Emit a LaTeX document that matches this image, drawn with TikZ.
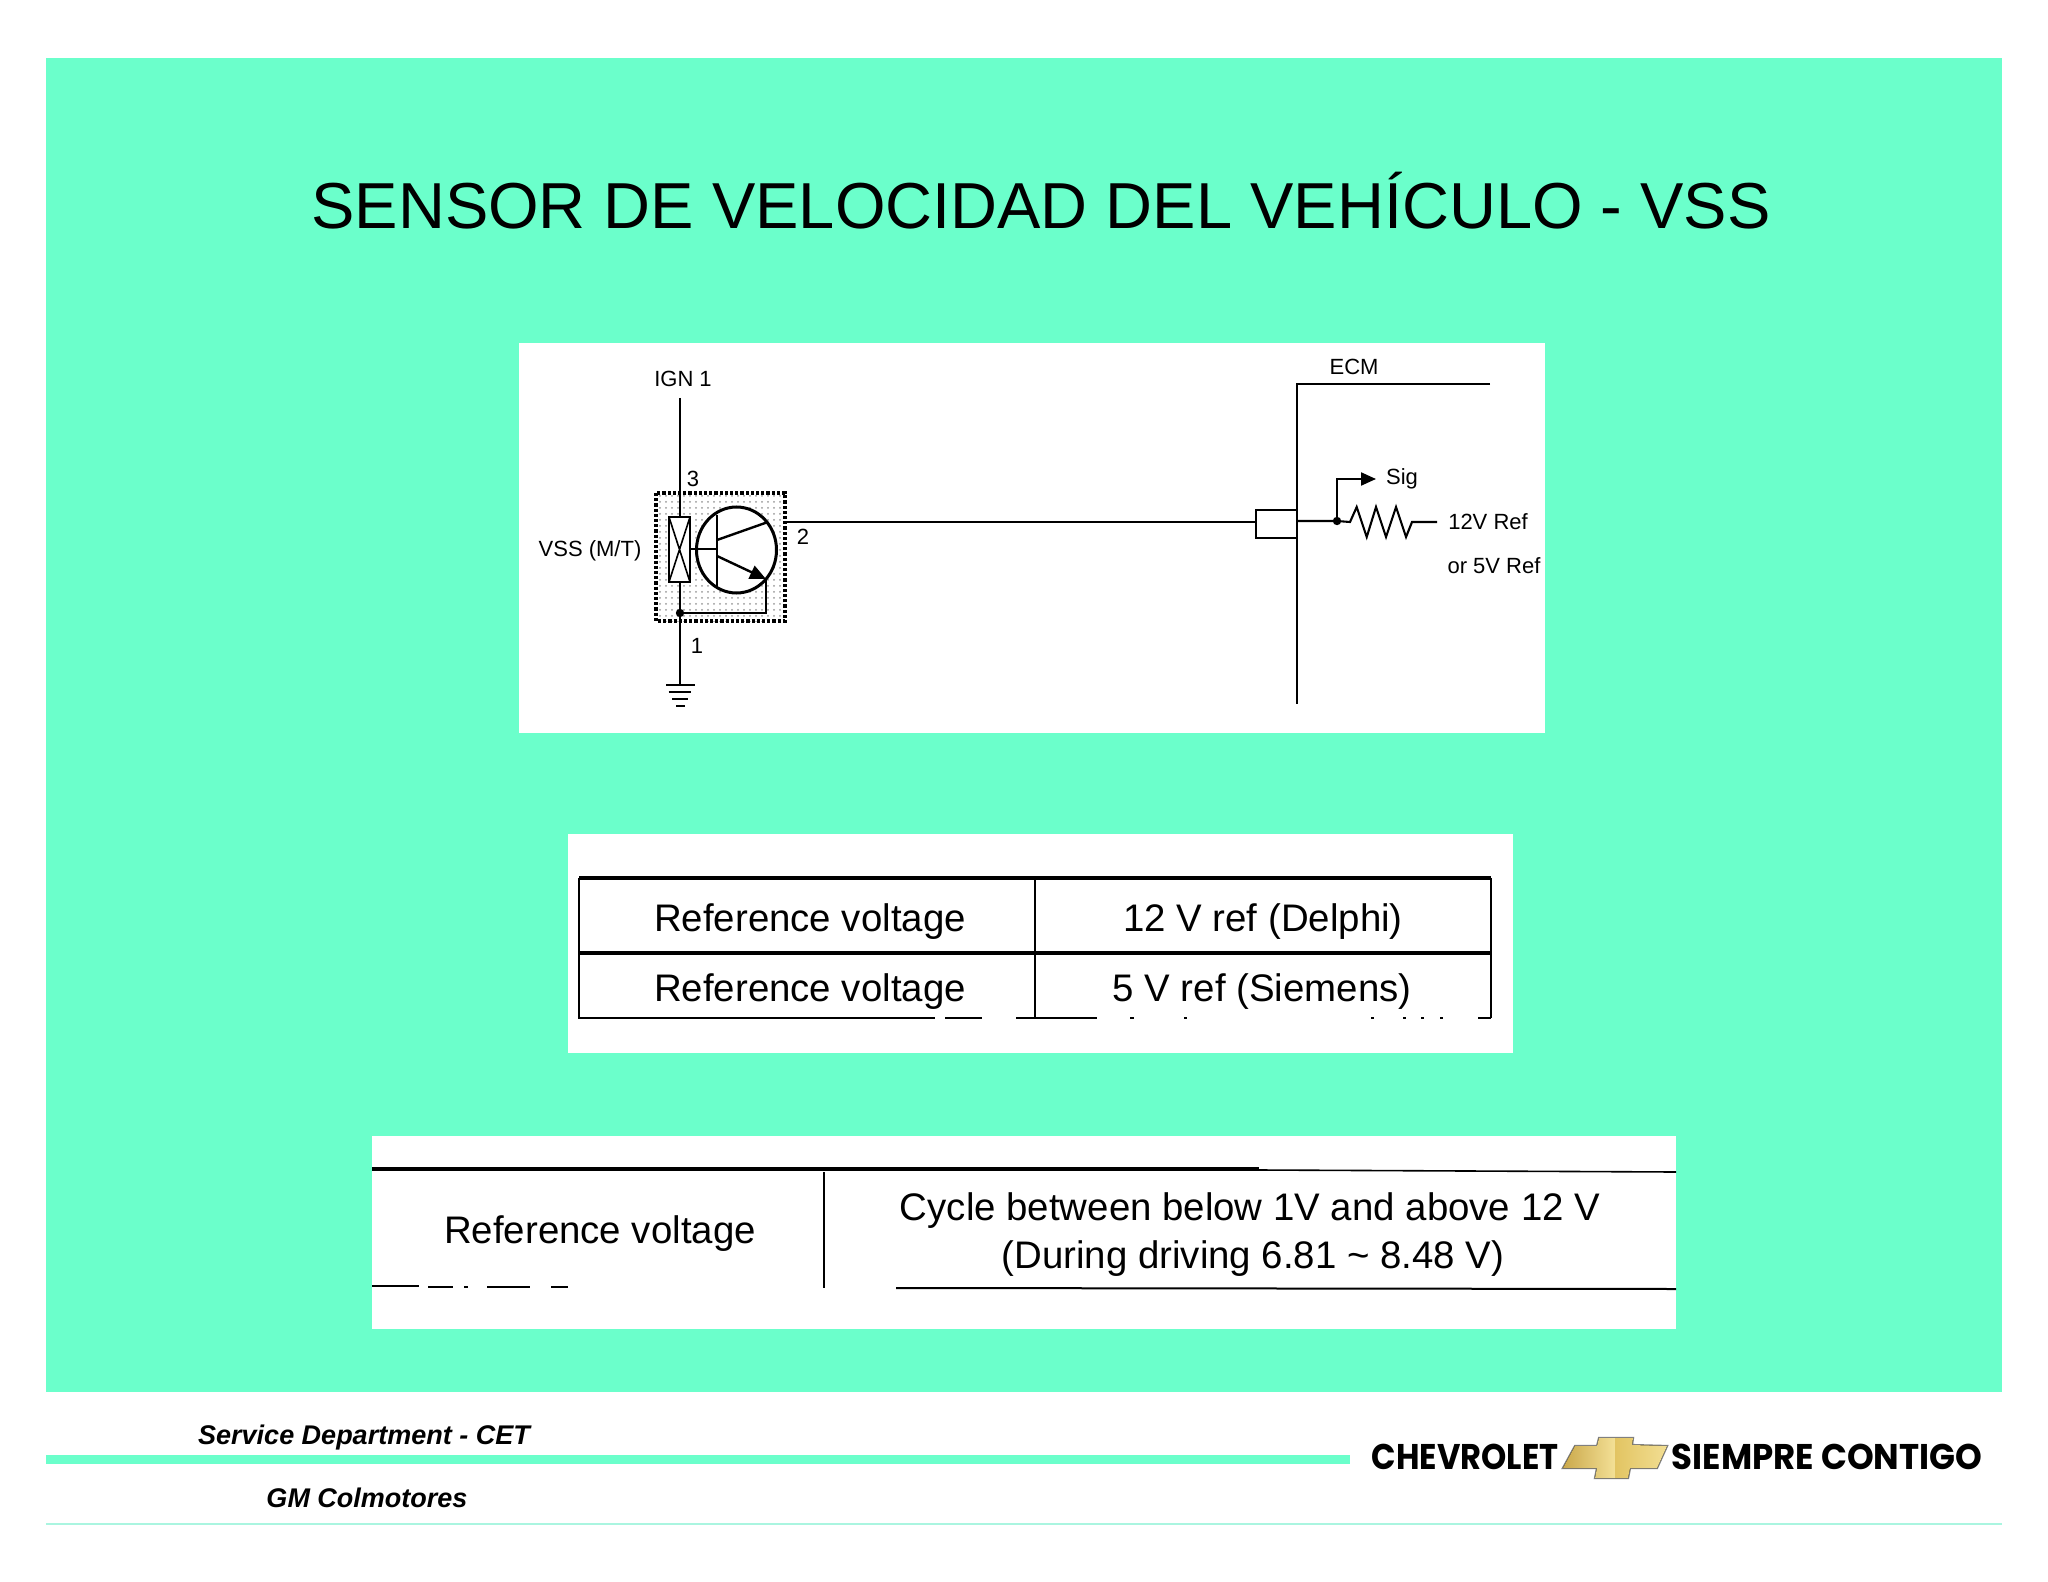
\documentclass[tikz,border=0pt]{standalone}
\usepackage{fontspec}
\setmainfont{Liberation Sans}
\newfontfamily\logofont{Poppins}
\usetikzlibrary{patterns,arrows.meta}
\definecolor{mint}{RGB}{107,255,203}
\definecolor{mintlight}{RGB}{170,245,224}
\definecolor{goldlight}{RGB}{243,224,150}
\definecolor{goldmid}{RGB}{226,196,98}
\definecolor{golddark}{RGB}{200,165,70}
\tikzset{
  x=0.5pt,y=-0.5pt,
  panel/.style={fill=white,draw=none},
  wire/.style={draw=black,line width=1.25pt},
  thinwire/.style={draw=black,line width=1.05pt},
  rule/.style={draw=black,line width=1.3pt},
  frag/.style={draw=black,line width=0.8pt},
  solder/.style={circle,fill=black,inner sep=0pt,minimum size=4.2pt},
  tiny/.style={anchor=base,inner sep=0pt,font=\fontsize{11}{13}\selectfont},
  tabletext/.style={anchor=base,inner sep=0pt,font=\fontsize{19.2}{23}\selectfont},
  foot/.style={anchor=base,inner sep=0pt,font=\fontsize{13.5}{16}\selectfont\bfseries\itshape},
  logotext/.style={anchor=base,inner sep=0pt,font=\logofont\bfseries\fontsize{17}{20}\selectfont},
}
\begin{document}
\begin{tikzpicture}
\useasboundingbox (0,0) rectangle (2048,1582);
\fill[white] (0,0) rectangle (2048,1582);
\fill[mint] (46,58) rectangle (2002,1392);
\fill[mint] (46,1455) rectangle (1350,1464);
\fill[mintlight] (46,1523) rectangle (2002,1525);
% panels
\fill[panel] (519,343) rectangle (1545,733);
\fill[panel] (568,834) rectangle (1513,1053);
\fill[panel] (372,1136) rectangle (1676,1329);
% title
\node[anchor=base,inner sep=0pt,font=\fontsize{32.5}{38}\selectfont] (title) at (1041,229) {SENSOR DE VELOCIDAD DEL VEHÍCULO - VSS};
% sensor housing
\fill[pattern=dots,pattern color=black!40] (656,493) rectangle (785,621);
\draw[black,line width=1.6pt,densely dotted] (656,493) rectangle (785,621);
% coordinates
\coordinate (ign) at (680,398);
\coordinate (rtop) at (680,517);
\coordinate (rbot) at (680,582);
\coordinate (gnode) at (680,613);
\coordinate (gnd) at (680,685);
\coordinate (emit) at (766,579);
\coordinate (out) at (785,522);
\coordinate (conn) at (1256,522);
% IGN wire and ground wire
\draw[wire] (ign) -- (rtop);
\draw[wire] (rbot) -- (gnd);
% hall element
\fill[white] (669,517) rectangle (690,582);
\draw[black,line width=1.4pt] (669,517) rectangle (690,582);
\draw[black,line width=0.8pt] (669,517) -- (690,582) (690,517) -- (669,582);
% transistor
\fill[white] (736.5,550) ellipse [x radius=40,y radius=43];
\draw[black,line width=1.5pt] (736.5,550) ellipse [x radius=40,y radius=43];
\draw[black,line width=1.1pt] (717,515) -- (717,587);
\draw[black,line width=1.1pt] (691,549) -- (717,549);
\draw[black,line width=1.2pt] (717,540) -- (768,522);
\draw[black,line width=1.2pt,-{Triangle[length=8pt,width=7pt]}] (717,556) -- (emit);
% emitter return
\draw[wire] (emit) -- (766,613) -- (gnode);
\node[solder] (dot1) at (gnode) {};
% signal wire
\draw[wire] (out) -- (conn);
% ECM
\coordinate (ecmtop) at (1297,384);
\coordinate (ecmbot) at (1297,704);
\coordinate (ecmend) at (1490,384);
\draw[wire] (ecmend) -- (ecmtop) -- (ecmbot);
\draw[wire] (1297,510) -- (1256,510) -- (1256,538) -- (1297,538);
% resistor
\coordinate (sj) at (1337,521);
\coordinate (rref) at (1437,522);
\coordinate (sigtip) at (1376,479);
\draw[thinwire] (1297,521) -- (sj) -- (1350,522) -- (1356.7,507) -- (1366.7,537) -- (1376,507) -- (1386,537) -- (1396,507) -- (1406,537) -- (1412,522) -- (rref);
\node[solder] (dot2) at (sj) {};
\draw[thinwire,-{Triangle[length=7.5pt,width=6.5pt]}] (sj) -- (1337,479) -- (sigtip);
% ground
\draw[black,line width=1.1pt] (666,685) -- (695,685) (668.6,692) -- (691,692) (672,699) -- (687.5,699) (676,706) -- (685,706);
% diagram labels
\node[tiny] (lign) at (683,387) {IGN 1};
\node[tiny] (lvss) at (590,557) {VSS (M/T)};
\node[tiny] (l3) at (693,487) {3};
\node[tiny] (l2) at (803,545) {2};
\node[tiny] (l1) at (697,653) {1};
\node[tiny] (lecm) at (1354,375) {ECM};
\node[tiny] (lsig) at (1402,485) {Sig};
\node[tiny] (l12) at (1488,530) {12V Ref};
\node[tiny] (l5) at (1494,574) {or 5V Ref};
% table 1
\draw[black,line width=1.6pt] (579,878) -- (1491,878);
\draw[black,line width=1.6pt] (579,953) -- (1491,953);
\draw[rule] (579,878) -- (579,1018) -- (935,1018);
\draw[frag] (945,1018) -- (982,1018);
\draw[rule] (1016,1018) -- (1097,1018);
\draw[frag] (1130,1018) -- (1134,1018) (1184,1018) -- (1187,1018) (1371,1018) -- (1374,1018) (1403,1018) -- (1406,1018) (1421,1018) -- (1424,1018) (1440,1018) -- (1443,1018);
\draw[rule] (1478,1018) -- (1491,1018);
\draw[black,line width=1.4pt] (1035,878) -- (1035,1018);
\draw[frag] (1491,878) -- (1491,1018);
\node[tabletext] (t1a) at (810,931) {Reference voltage};
\node[tabletext] (t1b) at (1263,931) {12 V ref (Delphi)};
\node[tabletext] (t2a) at (810,1001) {Reference voltage};
\node[tabletext] (t2b) at (1262,1001) {5 V ref (Siemens)};
% table 2
\draw[black,line width=1.7pt] (372,1169) -- (1259,1169);
\draw[frag] (1259,1170) -- (1676,1172);
\draw[frag] (824,1172) -- (824,1288);
\draw[frag,line width=1pt] (372,1286) -- (419,1286);
\draw[frag] (428,1287) -- (453,1287) (464,1287) -- (468,1287) (487,1287) -- (530,1287) (551,1287) -- (568,1287);
\draw[frag,line width=1pt] (896,1288) -- (1676,1289);
\node[tabletext] (t3a) at (600,1243) {Reference voltage};
\node[tabletext] (t3b) at (1250,1220) {Cycle between below 1V and above 12 V};
\node[tabletext] (t3c) at (1253,1268) {(During driving 6.81 \textasciitilde{} 8.48 V)};
% footer
\node[foot] (f1) at (364,1444) {Service Department - CET};
\node[foot] (f2) at (367,1507) {GM Colmotores};
% logo
\node[logotext,xscale=0.945,yscale=1.05] (logo1) at (1465,1469) {CHEVROLET};
\node[logotext,xscale=1,yscale=1.05] (logo2) at (1827,1469) {SIEMPRE CONTIGO};
% bowtie
\def\bowtie{(1563,1468) -- (1575,1446) -- (1597,1446) -- (1599,1438) -- (1633,1438) -- (1632,1445) -- (1667,1446) -- (1657,1468) -- (1630,1468) -- (1628,1478) -- (1595,1478) -- (1597,1468) -- cycle}
\draw[draw=black!50,line width=1.1pt] \bowtie;
\begin{scope}
\clip \bowtie;
\fill[left color=golddark,right color=goldlight] (1560,1436) rectangle (1615,1480);
\fill[left color=goldmid,right color=goldlight] (1615,1436) rectangle (1670,1480);
\end{scope}
\end{tikzpicture}
\end{document}
